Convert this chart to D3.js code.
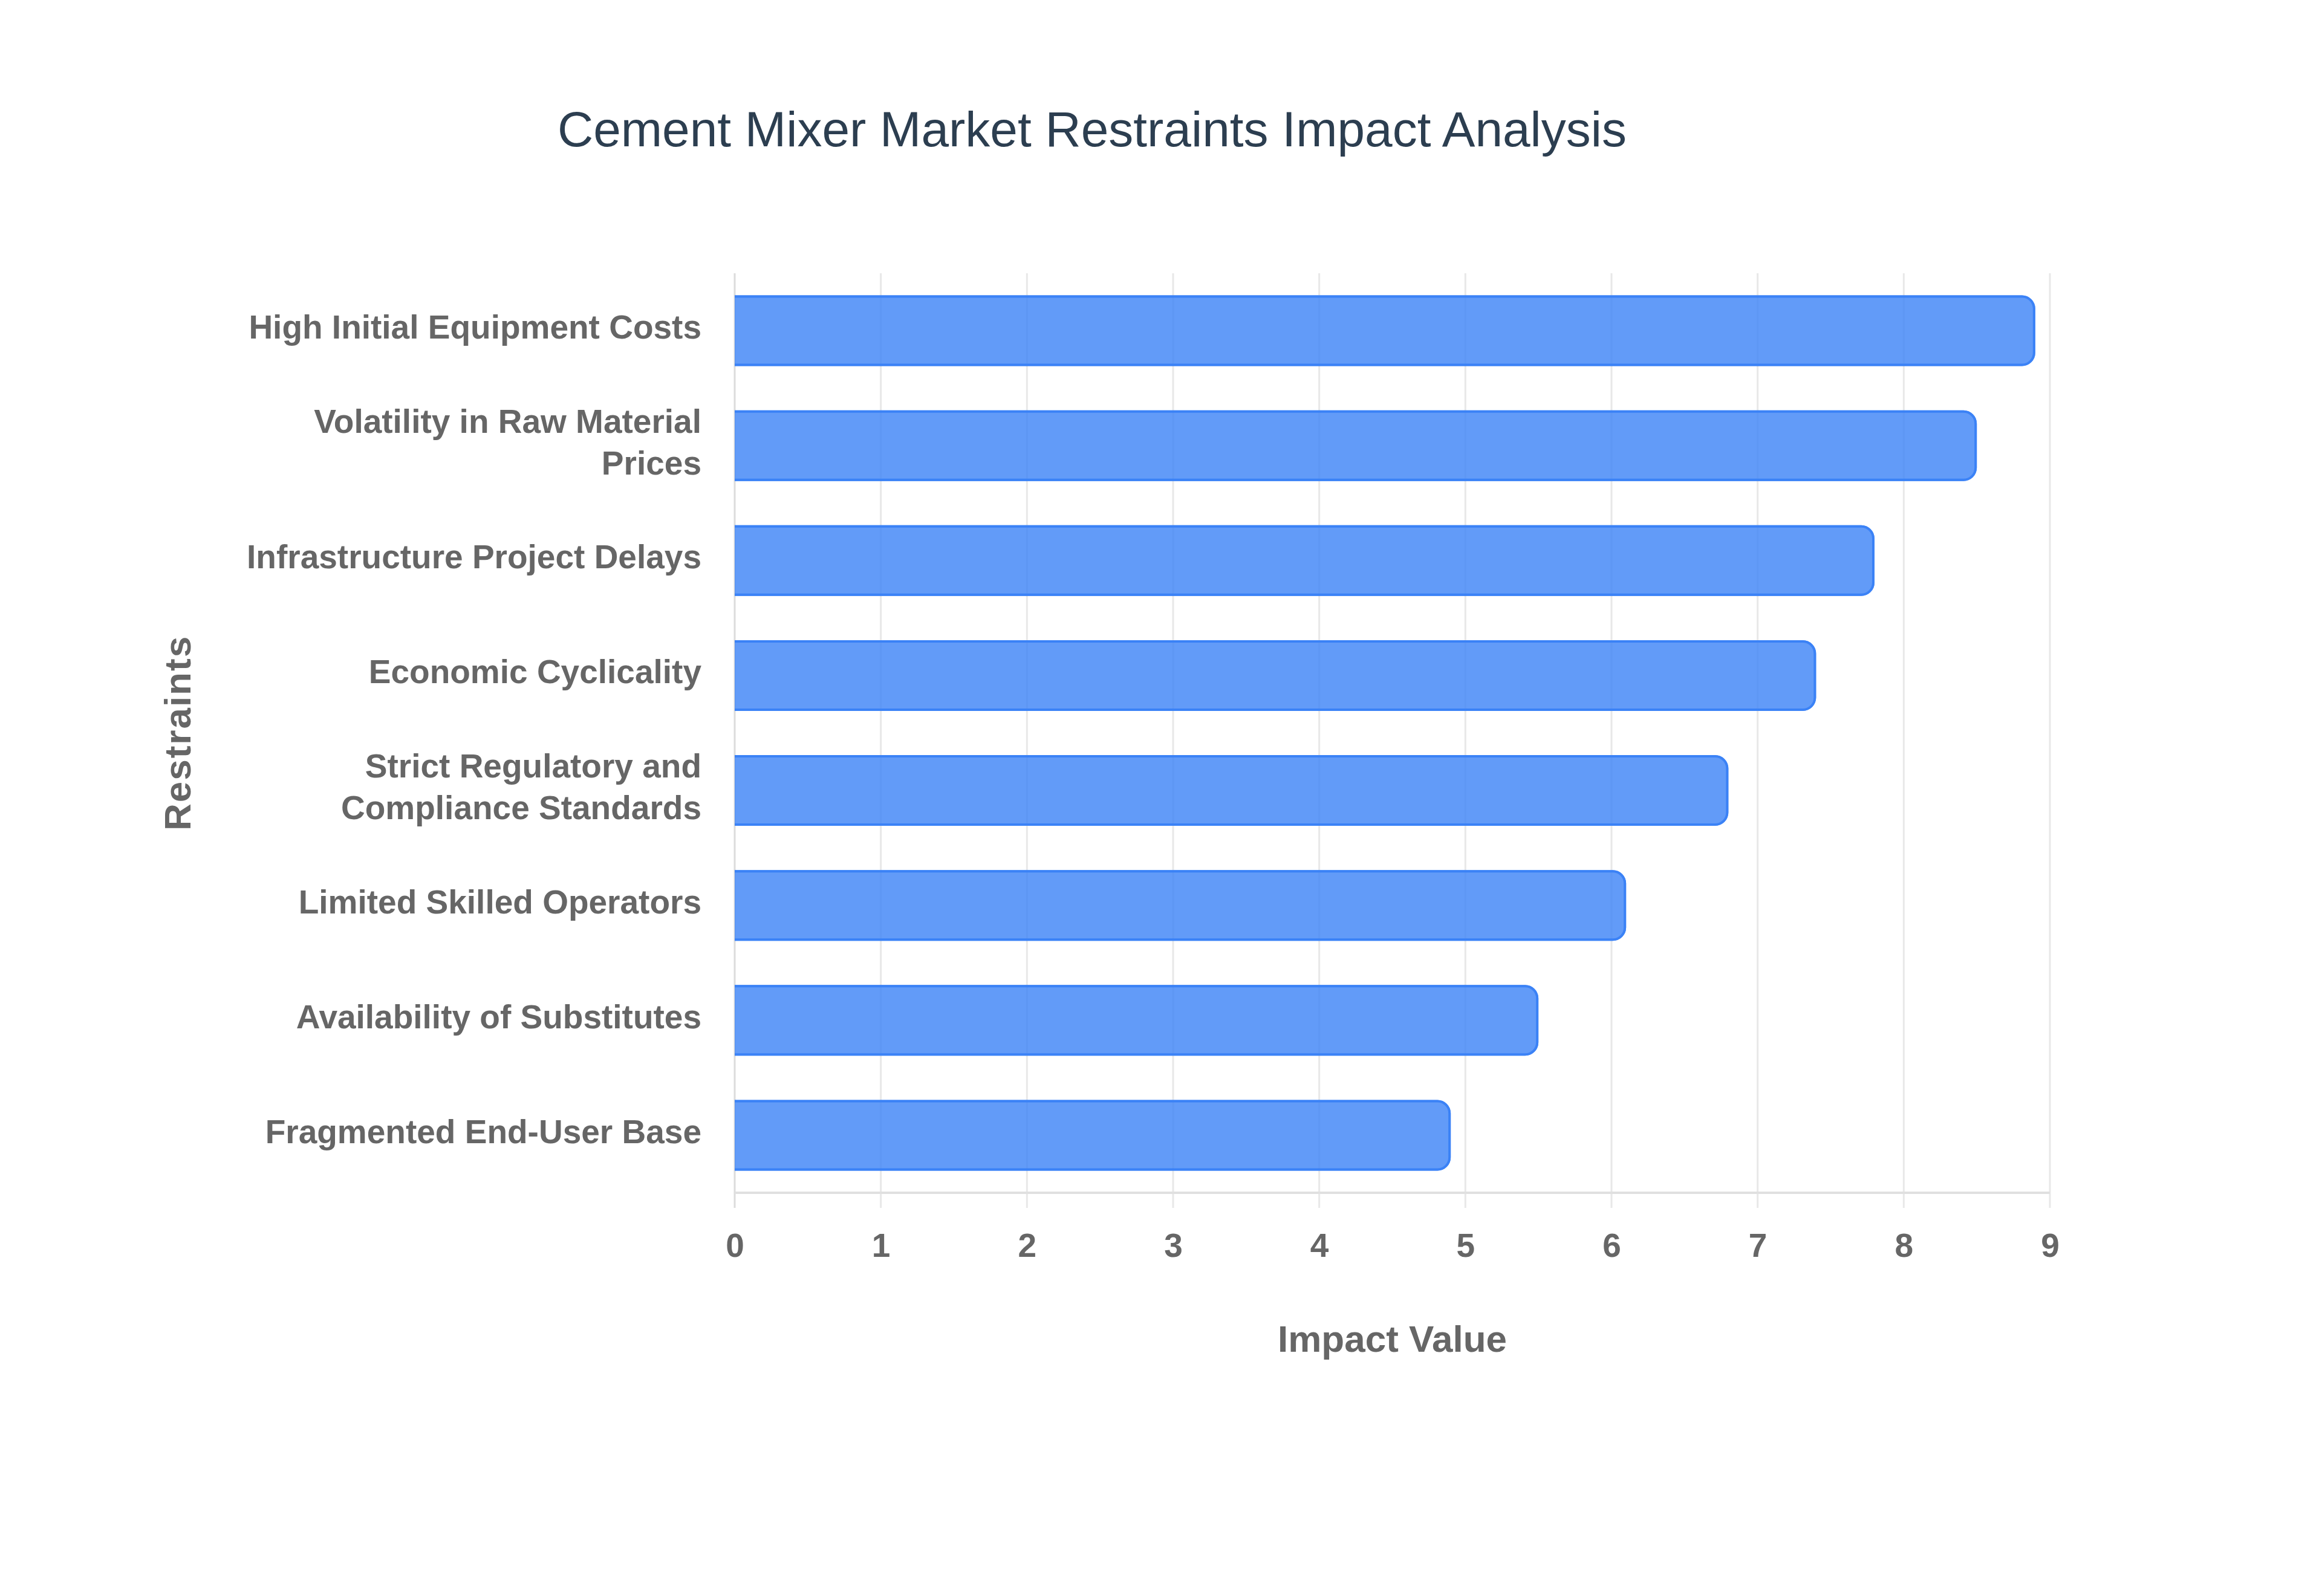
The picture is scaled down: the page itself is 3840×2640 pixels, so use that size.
<!DOCTYPE html>
<html>
<head>
<meta charset="utf-8">
<script src="https://cdn.jsdelivr.net/npm/d3@7"></script>
<style>
  html, body { margin: 0; padding: 0; background: #fff; }
  svg { display: block; }
</style>
</head>
<body>
<div id="chart"></div>
<script>
// chart data
var categories = [
  'High Initial Equipment Costs',
  'Volatility in Raw Material Prices',
  'Infrastructure Project Delays',
  'Economic Cyclicality',
  'Strict Regulatory and Compliance Standards',
  'Limited Skilled Operators',
  'Availability of Substitutes',
  'Fragmented End-User Base'
];
var impactValues = [8.9, 8.5, 7.8, 7.4, 6.8, 6.1, 5.5, 4.9];
var xTicks = [0, 1, 2, 3, 4, 5, 6, 7, 8, 9];

var titleText = 'Cement Mixer Market Restraints Impact Analysis';
var xTitle = 'Impact Value';
var yTitle = 'Restraints';

var width = 3840, height = 2640;
var margin = { top: 452, right: 450, bottom: 667, left: 1215 };
var chart_width = width - margin.left - margin.right;
var chart_height = height - margin.top - margin.bottom;

var svg = d3.select('#chart').append('svg')
  .attr('width', width)
  .attr('height', height)
  .style('background-color', '#ffffff');

// title
svg.append('text')
  .attr('x', 1806)
  .attr('y', 242)
  .attr('text-anchor', 'middle')
  .style('font-family', '"Liberation Sans", Arial, sans-serif')
  .style('font-size', '82px')
  .style('fill', '#2c3e50')
  .text(titleText);

var g = svg.append('g')
  .attr('transform', 'translate(' + margin.left + ',' + margin.top + ')');

var x = d3.scaleLinear().domain([0, 9]).range([0, chart_width]);
var y = d3.scaleBand().domain(categories).range([0, chart_height]).padding(0);

// vertical grid lines (run a bit past the baseline like tick marks)
g.append('g').attr('class', 'grid')
  .selectAll('line')
  .data(xTicks)
  .join('line')
  .attr('x1', function(d) { return x(d); })
  .attr('x2', function(d) { return x(d); })
  .attr('y1', 0)
  .attr('y2', chart_height + 25)
  .style('stroke', function(d) { return d === 0 ? '#dcdcdc' : '#e8e8e8'; })
  .style('stroke-width', 3);

// x axis (labels only, line drawn separately)
var xAxis = g.append('g')
  .attr('transform', 'translate(0,' + chart_height + ')')
  .call(d3.axisBottom(x).tickValues(xTicks).tickSize(0).tickPadding(106).tickFormat(d3.format('d')));
xAxis.select('.domain').remove();
xAxis.selectAll('text')
  .style('font-family', '"Liberation Sans", Arial, sans-serif')
  .style('font-weight', 'bold')
  .style('font-size', '55px')
  .style('fill', '#666666')
  .attr('dy', 0);

g.append('line')
  .attr('x1', 0).attr('x2', chart_width)
  .attr('y1', chart_height).attr('y2', chart_height)
  .style('stroke', '#e0e0e0')
  .style('stroke-width', 4);

// bars
var barH = y.bandwidth() * 0.615;
var r = 22, bw = 4;

function barFill(v, top) {
  var x1 = x(v), rr = Math.min(r, x1);
  return 'M0,' + top +
    'H' + (x1 - rr) +
    'A' + rr + ',' + rr + ' 0 0 1 ' + x1 + ',' + (top + rr) +
    'V' + (top + barH - rr) +
    'A' + rr + ',' + rr + ' 0 0 1 ' + (x1 - rr) + ',' + (top + barH) +
    'H0Z';
}
function barEdge(v, top) {
  var h = bw / 2;
  var x1 = x(v) - h, t = top + h, b = top + barH - h, rr = Math.min(r - h, x1);
  return 'M0,' + t +
    'H' + (x1 - rr) +
    'A' + rr + ',' + rr + ' 0 0 1 ' + x1 + ',' + (t + rr) +
    'V' + (b - rr) +
    'A' + rr + ',' + rr + ' 0 0 1 ' + (x1 - rr) + ',' + b +
    'H0';
}

var bars = g.append('g').selectAll('g.bar')
  .data(categories.map(function(c, i) { return { name: c, value: impactValues[i] }; }))
  .join('g').attr('class', 'bar');

bars.append('path')
  .attr('d', function(d) { return barFill(d.value, y(d.name) + (y.bandwidth() - barH) / 2); })
  .style('fill', 'rgba(59,130,246,0.8)');
bars.append('path')
  .attr('d', function(d) { return barEdge(d.value, y(d.name) + (y.bandwidth() - barH) / 2); })
  .style('fill', 'none')
  .style('stroke', '#3b82f6')
  .style('stroke-width', bw);

// y category labels, wrapped
var labelMax = 780, lineH = 69;
var labels = g.append('g').selectAll('text')
  .data(categories)
  .join('text')
  .attr('text-anchor', 'end')
  .style('font-family', '"Liberation Sans", Arial, sans-serif')
  .style('font-weight', 'bold')
  .style('font-size', '55px')
  .style('fill', '#666666');

labels.each(function(d) {
  var el = d3.select(this);
  var words = d.split(' '), lines = [], cur = [];
  var probe = el.append('tspan');
  words.forEach(function(w) {
    var test = cur.concat([w]).join(' ');
    probe.text(test);
    if (probe.node().getComputedTextLength() > labelMax && cur.length) {
      lines.push(cur.join(' '));
      cur = [w];
    } else {
      cur.push(w);
    }
  });
  lines.push(cur.join(' '));
  probe.remove();
  var cy = y(d) + y.bandwidth() / 2;
  var first = cy - (lines.length - 1) * lineH / 2 + 13;
  lines.forEach(function(l, i) {
    el.append('tspan')
      .attr('x', -55)
      .attr('y', first + i * lineH)
      .text(l);
  });
});

// axis titles
svg.append('text')
  .attr('x', margin.left + chart_width / 2)
  .attr('y', 2236)
  .attr('text-anchor', 'middle')
  .style('font-family', '"Liberation Sans", Arial, sans-serif')
  .style('font-weight', 'bold')
  .style('font-size', '62px')
  .style('fill', '#666666')
  .text(xTitle);

svg.append('text')
  .attr('transform', 'translate(315,' + (margin.top + chart_height / 2) + ') rotate(-90)')
  .attr('text-anchor', 'middle')
  .style('font-family', '"Liberation Sans", Arial, sans-serif')
  .style('font-weight', 'bold')
  .style('font-size', '62px')
  .style('letter-spacing', '2px')
  .style('fill', '#666666')
  .text(yTitle);
</script>
</body>
</html>
